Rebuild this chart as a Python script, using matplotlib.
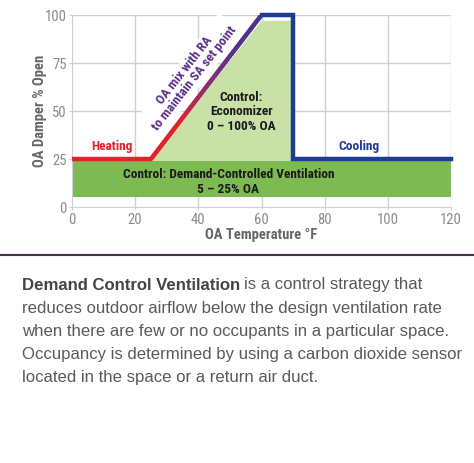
import numpy as np
import matplotlib
matplotlib.use("Agg")
import matplotlib.pyplot as plt
from matplotlib.collections import LineCollection
from matplotlib.colors import LinearSegmentedColormap
from matplotlib import font_manager

# ---- data ----
heating_x = [0, 25]
heating_y = [25, 25]
ramp_x = [25, 60]
ramp_y = [25, 100]
cooling_x = [60, 70, 70, 120]
cooling_y = [100, 100, 25, 25]
econ_x = [25, 60, 70, 70]
econ_y = [24, 97, 97, 24]
dcv_range = [5, 24]
x_ticks = [0, 20, 40, 60, 80, 100, 120]
y_ticks = [0, 25, 50, 75, 100]

names = {f.name for f in font_manager.fontManager.ttflist}
cond = "DejaVu Sans"
for c in ["Roboto Condensed", "Archivo Narrow", "Asap Condensed", "Barlow Condensed"]:
    if c in names:
        cond = c
        break

fig = plt.figure(figsize=(4.74, 4.63), dpi=100)
ax = fig.add_axes([72/474, 1-207/463, 379/474, 192/463])
ax.set_xlim(0, 120)
ax.set_ylim(0, 100)

grid_c = "#cfcfd4"
for x in x_ticks[1:]:
    ax.axvline(x, color=grid_c, lw=1, zorder=0)
for y in y_ticks[1:]:
    ax.axhline(y, color=grid_c, lw=1, zorder=0)

ax.fill_between([0, 120], dcv_range[0], dcv_range[1], color="#7dbb52", zorder=1, lw=0)
ax.fill(econ_x, econ_y, color="#c9e1a6", zorder=1, lw=0)

lw = 3.2
ax.plot(heating_x, heating_y, color="#e2202e", lw=lw, zorder=3, solid_capstyle="butt")
t = np.linspace(0, 1, 60)
xs = ramp_x[0] + t*(ramp_x[1]-ramp_x[0])
ys = ramp_y[0] + t*(ramp_y[1]-ramp_y[0])
pts = np.array([xs, ys]).T.reshape(-1, 1, 2)
segs = np.concatenate([pts[:-1], pts[1:]], axis=1)
cmap = LinearSegmentedColormap.from_list("rp", ["#e2202e", "#e2202e", "#8e2f6e", "#5b3089", "#4b3290"])
lc = LineCollection(segs, cmap=cmap, lw=lw, zorder=3, capstyle="round")
lc.set_array(t[:-1])
ax.add_collection(lc)
ax.plot(cooling_x, cooling_y, color="#1f3c93", lw=lw, zorder=3, solid_joinstyle="miter", clip_on=False)

fs = 9.6
ax.text(12.5, 28.0, "Heating", color="#e2202e", fontsize=fs, fontweight="bold", family=cond, ha="center", va="bottom")
ax.text(90.7, 28.0, "Cooling", color="#1f3c93", fontsize=fs, fontweight="bold", family=cond, ha="center", va="bottom")
ax.text(53.6, 49.5, "Control:\nEconomizer\n0 – 100% OA", color="#1a1a1a", fontsize=fs, fontweight="bold",
        family=cond, ha="center", va="center", linespacing=1.15)
ax.text(49.5, 13.0, "Control: Demand-Controlled Ventilation\n5 – 25% OA", color="#1a1a1a", fontsize=fs,
        fontweight="bold", family=cond, ha="center", va="center", linespacing=1.15)
ax.text(37.3, 69, "OA mix with RA\nto maintain SA set point", color="#5b3089", fontsize=fs, fontweight="bold",
        family=cond, ha="center", va="center", rotation=52, rotation_mode="anchor", linespacing=1.0,
        zorder=2, bbox=dict(facecolor="white", edgecolor="none", pad=1.5))

for s in ["top", "right"]:
    ax.spines[s].set_visible(False)
for s in ["left", "bottom"]:
    ax.spines[s].set_color(grid_c)
ax.set_xticks(x_ticks)
ax.set_yticks(y_ticks)
ax.tick_params(colors=grid_c, labelcolor="#8a8a8a", labelsize=10.5, length=2.5, pad=1.5)
for lab in ax.get_xticklabels() + ax.get_yticklabels():
    lab.set_family(cond)
ax.set_xlabel("OA Temperature °F", fontsize=10.5, fontweight="bold", color="#666666", family=cond, labelpad=1)
ax.set_ylabel("OA Damper % Open", fontsize=10.5, fontweight="bold", color="#666666", family=cond)
ax.yaxis.set_label_coords(-0.065, 0.5)

fig.add_artist(plt.Line2D([0, 1], [1-255/463, 1-255/463], color="#4a3550", lw=1.5))

para_c = "#5a5a5a"
pfs = 12.1
y0 = 285
dy = 23.1
bold = fig.text(22/474, 1-y0/463, "Demand Control Ventilation", fontsize=pfs, fontweight="bold", color="#444444",
                family="Liberation Sans", va="center")
lines = [
    "reduces outdoor airflow below the design ventilation rate",
    "when there are few or no occupants in a particular space.",
    "Occupancy is determined by using a carbon dioxide sensor",
    "located in the space or a return air duct.",
]
fig.canvas.draw()
bb = bold.get_window_extent()
fig.text((bb.x1 + 4)/474, 1-y0/463, "is a control strategy that", fontsize=pfs, color=para_c,
         family="Liberation Sans", va="center")
for i, l in enumerate(lines, start=1):
    fig.text(22/474, 1-(y0+i*dy)/463, l, fontsize=pfs, color=para_c, family="Liberation Sans", va="center")

fig.savefig("out.png", dpi=100)
